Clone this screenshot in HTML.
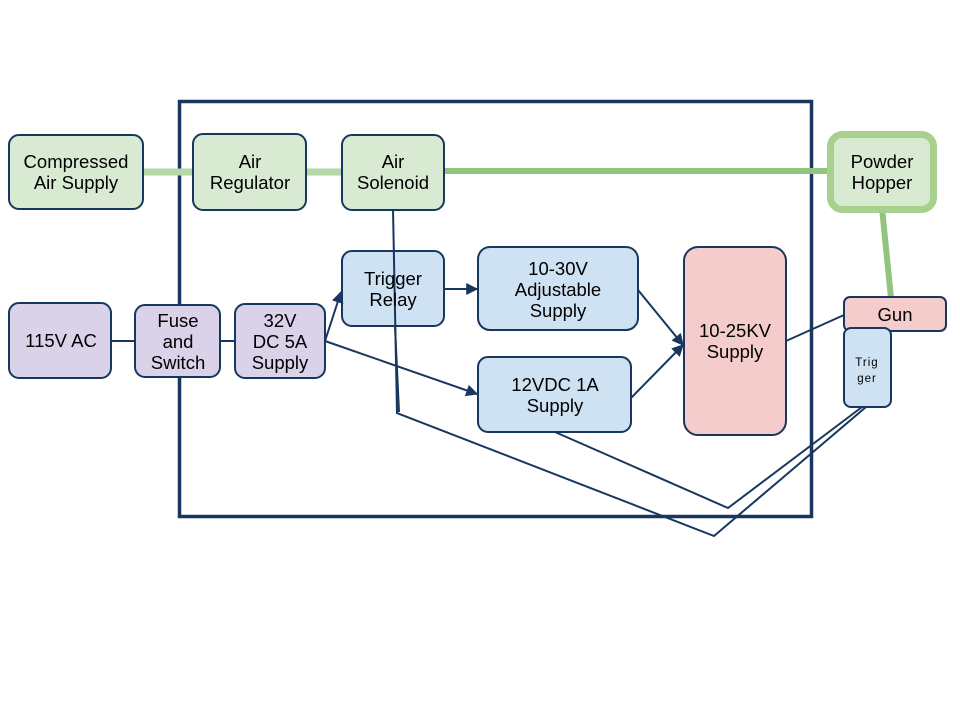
<!DOCTYPE html>
<html><head><meta charset="utf-8"><style>
body{margin:0;background:#fff}
svg text{font-family:"Liberation Sans",Arial,sans-serif;fill:#000;text-anchor:middle}
</style></head><body>
<svg width="960" height="720" viewBox="0 0 960 720" xmlns="http://www.w3.org/2000/svg">
<defs>
<marker id="a" viewBox="0 0 10 10" refX="9" refY="5" markerWidth="6" markerHeight="6" orient="auto"><path d="M0,0 L10,5 L0,10 z" fill="#17375e"/></marker>
</defs>
<rect x="0" y="0" width="960" height="720" fill="#fff"/>
<rect x="179.5" y="101.5" width="632" height="415" fill="none" stroke="#17375e" stroke-width="3.5"/>
<line x1="143" y1="172" x2="193" y2="172" stroke="#b6d7a8" stroke-width="7"/>
<line x1="306" y1="172" x2="342" y2="172" stroke="#b6d7a8" stroke-width="7"/>
<line x1="444" y1="171" x2="832" y2="171" stroke="#93c47d" stroke-width="6"/>
<line x1="882" y1="208" x2="891" y2="298" stroke="#93c47d" stroke-width="6"/>
<g stroke="#17375e" stroke-width="2">
<rect x="9" y="135" width="134" height="74" rx="10" fill="#d9ead3"/>
<rect x="193" y="134" width="113" height="76" rx="10" fill="#d9ead3"/>
<rect x="342" y="135" width="102" height="75" rx="10" fill="#d9ead3"/>
<rect x="9" y="303" width="102" height="75" rx="10" fill="#d9d2e9"/>
<rect x="135" y="305" width="85" height="72" rx="10" fill="#d9d2e9"/>
<rect x="235" y="304" width="90" height="74" rx="10" fill="#d9d2e9"/>
<rect x="342" y="251" width="102" height="75" rx="10" fill="#cfe2f3"/>
<rect x="478" y="247" width="160" height="83" rx="12" fill="#cfe2f3"/>
<rect x="478" y="357" width="153" height="75" rx="10" fill="#cfe2f3"/>
<rect x="684" y="247" width="102" height="188" rx="14" fill="#f4cccc"/>
<rect x="844" y="297" width="102" height="34" rx="6" fill="#f4cccc"/>
<rect x="844" y="328" width="47" height="79" rx="7" fill="#cfe2f3"/>
</g>
<rect x="830.5" y="134.5" width="103" height="75" rx="12" fill="#d9ead3" stroke="#a9d18e" stroke-width="7"/>
<g stroke="#17375e" stroke-width="2" fill="none">
<line x1="111" y1="341" x2="135" y2="341"/>
<line x1="220" y1="341" x2="235" y2="341"/>
<line x1="325" y1="341" x2="341" y2="292" marker-end="url(#a)"/>
<line x1="325" y1="341" x2="477" y2="394" marker-end="url(#a)"/>
<line x1="444" y1="289" x2="477" y2="289" marker-end="url(#a)"/>
<line x1="638" y1="290" x2="683" y2="345" marker-end="url(#a)"/>
<line x1="631" y1="398" x2="683" y2="345" marker-end="url(#a)"/>
<line x1="786" y1="341" x2="844" y2="315"/>
<polyline points="393,209 397,413 714,536 866,407"/>
<polyline points="395,326 399,412"/>
<polyline points="555,432 728,508 862,407"/>
</g>
<g font-size="18.5">
<text x="76" y="168">Compressed</text><text x="76" y="189">Air Supply</text>
<text x="250" y="168">Air</text><text x="250" y="189">Regulator</text>
<text x="393" y="168">Air</text><text x="393" y="189">Solenoid</text>
<text x="882" y="168">Powder</text><text x="882" y="189">Hopper</text>
<text x="61" y="347">115V AC</text>
<text x="178" y="327">Fuse</text><text x="178" y="348">and</text><text x="178" y="369">Switch</text>
<text x="280" y="327">32V</text><text x="280" y="348">DC 5A</text><text x="280" y="369">Supply</text>
<text x="393" y="285">Trigger</text><text x="393" y="306">Relay</text>
<text x="558" y="275">10-30V</text><text x="558" y="296">Adjustable</text><text x="558" y="317">Supply</text>
<text x="555" y="391">12VDC 1A</text><text x="555" y="412">Supply</text>
<text x="735" y="337">10-25KV</text><text x="735" y="358">Supply</text>
<text x="895" y="321">Gun</text>
</g>
<g font-size="11.5"><text x="867" y="366" letter-spacing="1">Trig</text><text x="867" y="382" letter-spacing="1">ger</text></g>
</svg>
</body></html>
